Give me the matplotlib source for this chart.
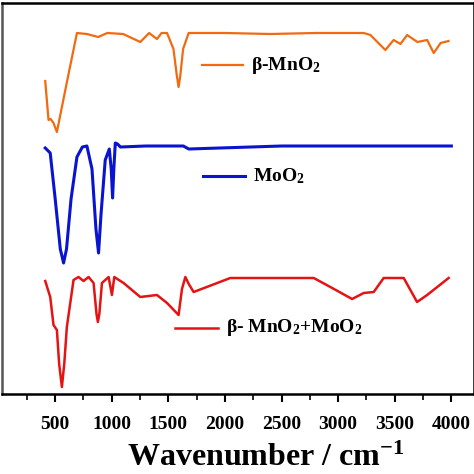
import matplotlib
matplotlib.use("Agg")
import matplotlib.pyplot as plt
from matplotlib.ticker import MultipleLocator

mno2_x = [412, 441, 460, 485, 515, 600, 692, 780, 880, 960, 1100, 1252, 1330, 1399, 1440, 1488, 1545, 1575, 1590, 1605, 1630, 1679, 2000, 2400, 2800, 3225, 3285, 3417, 3490, 3550, 3609, 3700, 3786, 3844, 3905, 3975]
mno2_y = [313, 274, 275, 271, 262, 310, 361, 360, 357, 361, 360, 352, 361, 355, 361, 361, 345, 318, 307, 318, 345, 361, 361, 360, 361, 361, 359, 344, 354, 350, 359, 352, 354, 341, 351, 353]

moo2_x = [412, 456, 500, 545, 574, 600, 640, 692, 740, 780, 825, 860, 883, 905, 942, 978, 995, 1007, 1018, 1031, 1051, 1076, 1300, 1600, 1632, 1680, 2500, 4000]
moo2_y = [246, 241, 195, 145, 131, 145, 195, 237, 247, 248, 225, 165, 141, 180, 234, 245, 225, 196, 225, 251, 250, 247, 248, 248, 248, 245, 248, 248]

mix_x = [412, 456, 485, 515, 535, 559, 580, 603, 662, 706, 750, 795, 839, 865, 877, 890, 913, 972, 1001, 1022, 1104, 1252, 1399, 1488, 1590, 1620, 1650, 1680, 1723, 2047, 2784, 2931, 3123, 3226, 3314, 3402, 3579, 3697, 3786, 3976]
mix_y = [113, 97, 69, 64, 30, 7, 30, 67, 114, 117, 113, 117, 111, 80, 72, 80, 111, 117, 99, 117, 111, 97, 99, 91, 79, 105, 117, 110, 102, 116, 116, 107, 95, 101, 102, 116, 116, 92, 99, 116]

labels = [r"$\mathbf{\beta}$-MnO$_\mathbf{2}$", r"MoO$_\mathbf{2}$", r"$\mathbf{\beta}$- MnO$_\mathbf{2}$+MoO$_\mathbf{2}$"]
colors = ["#f26a10", "#0a14d0", "#e41414"]

plt.rcParams['font.family'] = ['Liberation Serif', 'DejaVu Serif']
plt.rcParams['mathtext.fontset'] = 'custom'
plt.rcParams['mathtext.rm'] = 'Liberation Serif:bold'
plt.rcParams['mathtext.bf'] = 'Liberation Serif:bold'
plt.rcParams['mathtext.it'] = 'Liberation Serif:bold'

fig = plt.figure(figsize=(4.74, 4.74), dpi=100)
W = 474
ax = fig.add_axes([2 / W, 1 - 394 / W, 472 / W, 391 / W])
ax.plot(mno2_x, mno2_y, color=colors[0], lw=1.6)
ax.plot(moo2_x, moo2_y, color=colors[1], lw=2.2)
ax.plot(mix_x, mix_y, color=colors[2], lw=1.8)
ax.set_xlim(30, 4200)
ax.set_ylim(0, 391)
ax.set_yticks([])
ax.xaxis.set_major_locator(MultipleLocator(500))
ax.xaxis.set_minor_locator(MultipleLocator(250))
ax.tick_params(axis='x', which='major', length=6, width=1.5, labelsize=14, pad=10)
ax.tick_params(axis='x', which='minor', length=4, width=1.2)
for lab in ax.get_xticklabels():
    lab.set_fontweight('bold')
for s in ax.spines.values():
    s.set_linewidth(1.8)
ax.spines['left'].set_color('#555555')

def px2x(p):
    return (p + 1.6) / 0.1131

def legend_entry(x0, x1, yp, text, color, lw):
    y = 394 - yp
    ax.plot([px2x(x0), px2x(x1)], [y, y], color=color, lw=lw)
    ax.text(px2x(x1 + 8), y, text, color='black', fontsize=14, fontweight='bold', va='center', ha='left')

legend_entry(202, 243, 65, labels[0], colors[0], 1.6)
legend_entry(203, 245, 176, labels[1], colors[1], 2.2)
legend_entry(175, 218, 328, labels[2], colors[2], 1.8)

fig.text(266 / W, 1 - 458 / W, r"Wavenumber / cm$^\mathbf{-1}$", ha='center', va='center', fontsize=23, fontweight='bold')

fig.savefig("out.png", dpi=100)
